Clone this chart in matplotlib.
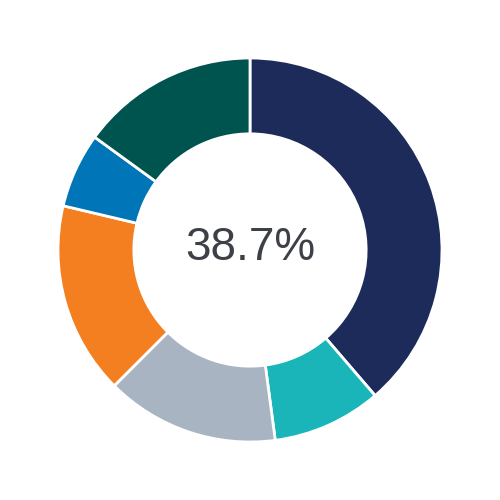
import matplotlib
matplotlib.use("Agg")
import matplotlib.pyplot as plt

# segment shares, clockwise from 12 o'clock
labels = ["Navy", "Teal", "Gray", "Orange", "Blue", "Green"]
shares = [38.7, 9.2, 14.6, 16.2, 6.3, 15.0]
colors = ["#1c2b5a", "#1ab5b8", "#a9b4c2", "#f47f20", "#0075b8", "#005450"]
center_label = "38.7%"

fig = plt.figure(figsize=(5, 5), dpi=100)
ax = fig.add_axes([0, 0, 1, 1])

ax.pie(shares, colors=colors, startangle=90, counterclock=False,
       radius=1.0,
       wedgeprops=dict(width=0.395, edgecolor="white", linewidth=2))

ax.text(0, 0.01, center_label, ha="center", va="center",
        fontsize=33, color="#3d4047", family=["Liberation Sans", "DejaVu Sans"])

lim = 250 / 192
ax.set_xlim(-lim, lim)
ax.set_ylim(-lim, lim)
ax.set_aspect("equal")
ax.axis("off")

fig.savefig("out.png", dpi=100, facecolor="white")
